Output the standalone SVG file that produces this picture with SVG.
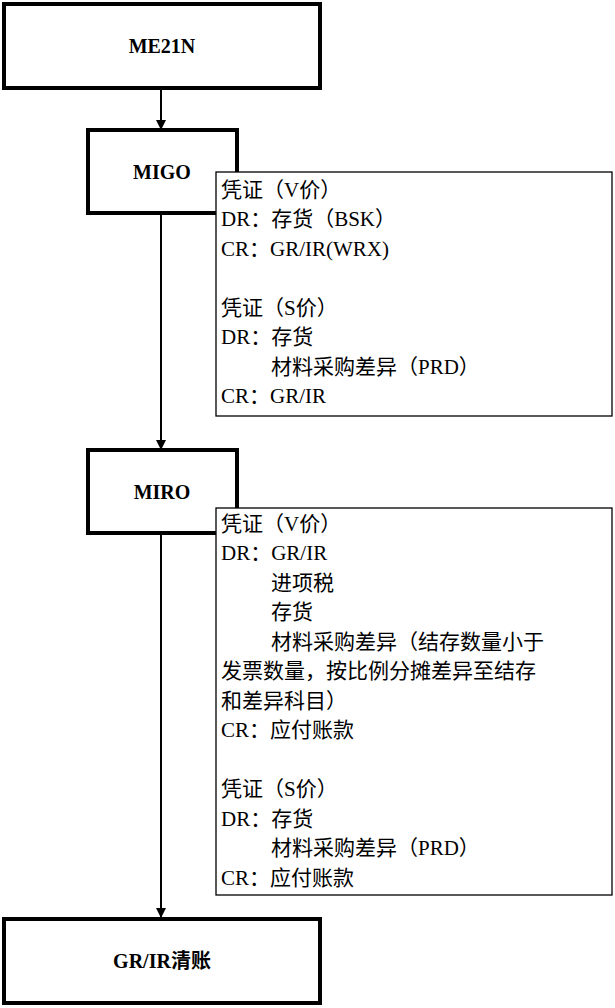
<svg xmlns="http://www.w3.org/2000/svg" width="615" height="1008" viewBox="0 0 615 1008">
<style>
.b{fill:#fff;stroke:#000;stroke-width:4}
.n{fill:#fff;stroke:#000;stroke-width:1.3}
.t{font-family:"Liberation Serif","Noto Sans CJK SC",serif;font-size:21px;fill:#000}
.h{font-family:"Liberation Serif","Noto Sans CJK SC",serif;font-size:20px;font-weight:bold;text-anchor:middle}
.c{stroke:#000;stroke-width:2;fill:none}
</style>
<defs><marker id="a" markerWidth="10" markerHeight="10" refX="9" refY="5" orient="auto" markerUnits="userSpaceOnUse"><path d="M0,0 L10,5 L0,10 z"/></marker></defs>
<g id="connectors">
<line class="c" x1="161" y1="88" x2="161" y2="129" marker-end="url(#a)"/>
<line class="c" x1="161" y1="213" x2="161" y2="449" marker-end="url(#a)"/>
<line class="c" x1="161" y1="533" x2="161" y2="917" marker-end="url(#a)"/>
</g>
<g id="me21n"><rect class="b" x="4" y="4" width="316" height="84"/><text class="h" x="162" y="53">ME21N</text></g>
<g id="migo"><rect class="b" x="88" y="130" width="149" height="83"/><text class="h" x="162" y="179">MIGO</text></g>
<g id="migo-note"><rect class="n" x="216" y="172" width="396" height="244"/>
<text class="t" x="221" y="197">凭证（V价）</text>
<text class="t" x="221" y="226">DR：存货（BSK）</text>
<text class="t" x="221" y="256">CR：GR/IR(WRX)</text>
<text class="t" x="221" y="315">凭证（S价）</text>
<text class="t" x="221" y="344">DR：存货</text>
<text class="t" x="271" y="374">材料采购差异（PRD）</text>
<text class="t" x="221" y="403">CR：GR/IR</text>
</g>
<g id="miro"><rect class="b" x="88" y="450" width="149" height="83"/><text class="h" x="162" y="499">MIRO</text></g>
<g id="miro-note"><rect class="n" x="216" y="508" width="396" height="387"/>
<text class="t" x="221" y="531">凭证（V价）</text>
<text class="t" x="221" y="560">DR：GR/IR</text>
<text class="t" x="271" y="590">进项税</text>
<text class="t" x="271" y="619">存货</text>
<text class="t" x="271" y="649">材料采购差异（结存数量小于</text>
<text class="t" x="221" y="678">发票数量，按比例分摊差异至结存</text>
<text class="t" x="221" y="708">和差异科目）</text>
<text class="t" x="221" y="737">CR：应付账款</text>
<text class="t" x="221" y="796">凭证（S价）</text>
<text class="t" x="221" y="826">DR：存货</text>
<text class="t" x="271" y="855">材料采购差异（PRD）</text>
<text class="t" x="221" y="885">CR：应付账款</text>
</g>
<g id="grir"><rect class="b" x="4" y="919" width="316" height="84"/><text class="h" x="162" y="968">GR/IR清账</text></g>
</svg>
